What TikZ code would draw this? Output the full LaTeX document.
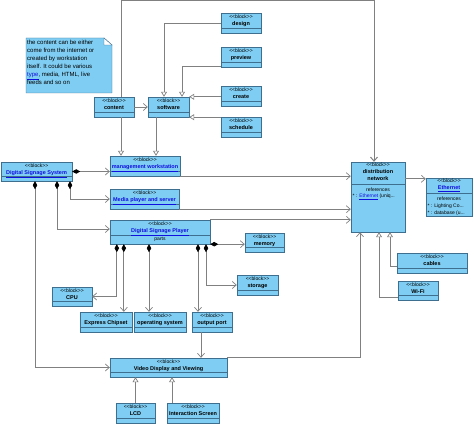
\documentclass[tikz,border=0pt]{standalone}
\usepackage{fontspec}
\setmainfont{Liberation Sans}
\usetikzlibrary{arrows.meta}
\definecolor{blockfill}{HTML}{7FCDF2}
\definecolor{blockline}{HTML}{3F6F8F}
\definecolor{wirecol}{HTML}{808080}
\definecolor{linkblue}{HTML}{1010E0}
\newcommand\lnk[1]{\textcolor{linkblue}{\underline{#1}}}
\newcommand\stereo{{\fontsize{5}{7}\selectfont<{}<block>{}>}}
\newcommand\blk[1]{\stereo\\{\bfseries #1}}
\tikzset{
  block/.style={draw=blockline, fill=blockfill, rectangle, inner sep=1pt, align=center,
    font=\fontsize{5.5}{7}\selectfont, text depth=5pt, minimum height=20pt,
    path picture={\draw[blockline] ([yshift=4.5pt]path picture bounding box.south west)
      -- ([yshift=4.5pt]path picture bounding box.south east);}},
  refblock/.style={draw=blockline, fill=blockfill, rectangle, inner sep=0pt,
    path picture={\draw[blockline] ([yshift=-#1]path picture bounding box.north west)
      -- ([yshift=-#1]path picture bounding box.north east);}},
  small/.style={inner sep=0.5pt, font=\fontsize{5}{6.5}\selectfont},
  wire/.style={draw=wirecol, line width=0.7pt},
  opn/.style={-{Straight Barb[length=4pt,width=7pt]}},
  gen/.style={-{Triangle[length=5pt,width=6pt,fill=white]}},
  comp/.style={{Diamond[length=8pt,width=4.5pt,color=black]}-{Straight Barb[length=4pt,width=7pt]}},
}
\begin{document}
\begin{tikzpicture}[x=1pt,y=-1pt]
\useasboundingbox (0,0) rectangle (474,425);

% note
\coordinate (memo nw) at (26,38);
\coordinate (memo se) at (112,93);
\filldraw[fill=blockfill, draw=blockline] (memo nw) -- (104,38) -- (112,45) -- (memo se) -- (memo nw |- memo se) -- cycle;
\filldraw[fill=white, draw=blockline] (104,38) -- (112,45) -- (104,45) -- cycle;
\node[anchor=north west, inner sep=1pt, align=left, font=\fontsize{6}{8}\selectfont] (memo) at (26,39)
  {the content can be either\\come from the internet or\\created by workstation\\itself. It could be various\\\lnk{type}, media, HTML, live\\feeds and so on};

% blocks
\node[block, minimum width=40pt] (content) at (114,107) {\blk{content}};
\node[block, minimum width=41pt] (software) at (168.5,107) {\blk{software}};
\node[block, minimum width=40pt] (design) at (241,23) {\blk{design}};
\node[block, minimum width=40pt] (preview) at (241,57) {\blk{preview}};
\node[block, minimum width=40pt] (create) at (241,96) {\blk{create}};
\node[block, minimum width=40pt] (schedule) at (241,127) {\blk{schedule}};
\node[block, minimum width=70pt] (mw) at (145,166) {\blk{\lnk{management workstation}}};
\node[block, minimum width=71pt, minimum height=19pt] (dss) at (36.5,171.5) {\blk{\lnk{Digital Signage System}}};
\node[block, minimum width=69pt] (media) at (144.5,199) {\blk{\lnk{Media player and server}}};
\node[block, minimum width=100pt, minimum height=24pt, text depth=10pt,
  path picture={\draw[blockline] ([yshift=9pt]path picture bounding box.south west)
    -- ([yshift=9pt]path picture bounding box.south east);}] (player) at (160,232) {\blk{\lnk{Digital Signage Player}}};
\node[small] (player parts) at ([yshift=4.5pt]player.south) {parts};
\node[block, minimum width=39pt, minimum height=19pt] (memory) at (264.5,242.5) {\blk{memory}};
\node[block, minimum width=41pt] (storage) at (257.5,285) {\blk{storage}};
\node[block, minimum width=40pt, minimum height=19pt] (cpu) at (72,296.5) {\blk{CPU}};
\node[block, minimum width=52pt] (chipset) at (106,322) {\blk{Express Chipset}};
\node[block, minimum width=52pt] (os) at (160,322) {\blk{operating system}};
\node[block, minimum width=40pt] (port) at (212,322) {\blk{output port}};
\node[block, minimum width=117pt, minimum height=19pt] (display) at (168.5,367.5) {\blk{Video Display and Viewing}};
\node[block, minimum width=39pt] (lcd) at (135.5,413) {\blk{LCD}};
\node[block, minimum width=52pt] (touch) at (193,413) {\blk{Interaction Screen}};
\node[block, minimum width=70pt] (cables) at (432,263) {\blk{cables}};
\node[block, minimum width=40pt, minimum height=19pt] (wifi) at (418,290.5) {\blk{Wi-Fi}};

% distribution network + ethernet
\node[refblock=22pt, minimum width=54pt, minimum height=70pt] (dn) at (378,197) {};
\node[anchor=north, inner sep=1pt, align=center, font=\fontsize{5.5}{7}\selectfont] (dn head) at (dn.north)
  {\stereo\\\textbf{distribution}\\\textbf{network}};
\node[small] (dn refs) at (378,190) {references};
\node[small, anchor=west] (dn item) at (352,197) {* : \lnk{Ethernet} (uniq...};
\node[refblock=15pt, minimum width=46pt, minimum height=38pt] (eth) at (449,197) {};
\node[anchor=north, inner sep=1pt, align=center, font=\fontsize{5.5}{7}\selectfont] (eth head) at (eth.north)
  {\stereo\\\textbf{\lnk{Ethernet}}};
\node[small] (eth refs) at (449,199) {references};
\node[small, anchor=west] (eth item a) at (427,206) {* : Lighting Co...};
\node[small, anchor=west] (eth item b) at (427,213) {* : database (u...};

% connectors
\coordinate (roof) at (121,1);
\draw[wire, opn, line width=1pt] (content.north -| roof) -- (roof) -| ([xshift=-4pt]dn.north);
\draw[wire, gen] (content.south -| roof) -- (roof |- mw.north);
\draw[wire, gen] ([xshift=-12.5pt]software.south) -- ([xshift=-12.5pt]software.south |- mw.north);
\draw[wire, opn] (content) -- (software);
\draw[wire, gen] (design.west) -| ([xshift=-4.5pt]software.north);
\draw[wire, gen] ([yshift=-9pt]preview.west) -| ([xshift=13.5pt]software.north);
\draw[wire, gen] (create.west |- software.north east) -- (software.north east);
\draw[wire, gen] (schedule.west |- software.south east) -- (software.south east);

\draw[wire, comp] (dss.east) -- (dss.east -| mw.west);
\draw[wire, comp] ([xshift=33.5pt]dss.south) |- (media.west);
\draw[wire, comp] ([xshift=20.5pt]dss.south) |- ([yshift=3pt]player.west);
\draw[wire, comp] ([xshift=-1.5pt]dss.south) |- (display.west);

\draw[wire, opn] (mw.south east) -- (mw.south east -| dn.west);
\draw[wire, opn] (media.south east) -- (media.south east -| dn.west);
\draw[wire, opn] (player.north east) -- (player.north east -| dn.west);
\draw[wire, opn] ([yshift=-1pt]eth.north west -| dn.east) -- ([yshift=-1pt]eth.north west);

\draw[wire, comp] (player.south east) -- (player.south east -| memory.west);
\draw[wire, comp] ([xshift=7pt]player.south west) |- (cpu.east);
\draw[wire, comp] ([xshift=14pt]player.south west) -- ([xshift=14pt]player.south west |- chipset.north);
\draw[wire, comp] ([xshift=-11pt]player.south) -- ([xshift=-11pt]player.south |- os.north);
\draw[wire, comp] ([xshift=38pt]player.south) -- ([xshift=38pt]player.south |- port.north);
\draw[wire, comp] ([xshift=46pt]player.south) |- (storage.west);

\draw[wire, opn] ([xshift=-11pt]port.south) -- ([xshift=-11pt]port.south |- display.north);
\draw[wire, opn] (display.north east) -| ([xshift=-18pt]dn.south);
\draw[wire, gen] ([yshift=-3pt]cables.west) -| ([xshift=12pt]dn.south);
\draw[wire, gen] ([yshift=-6.5pt]wifi.west) -| ([xshift=1pt]dn.south);
\draw[wire, gen] (lcd.north) -- (lcd.north |- display.south);
\draw[wire, gen] ([xshift=-21pt]touch.north) -- ([xshift=-21pt]touch.north |- display.south);

\end{tikzpicture}
\end{document}
